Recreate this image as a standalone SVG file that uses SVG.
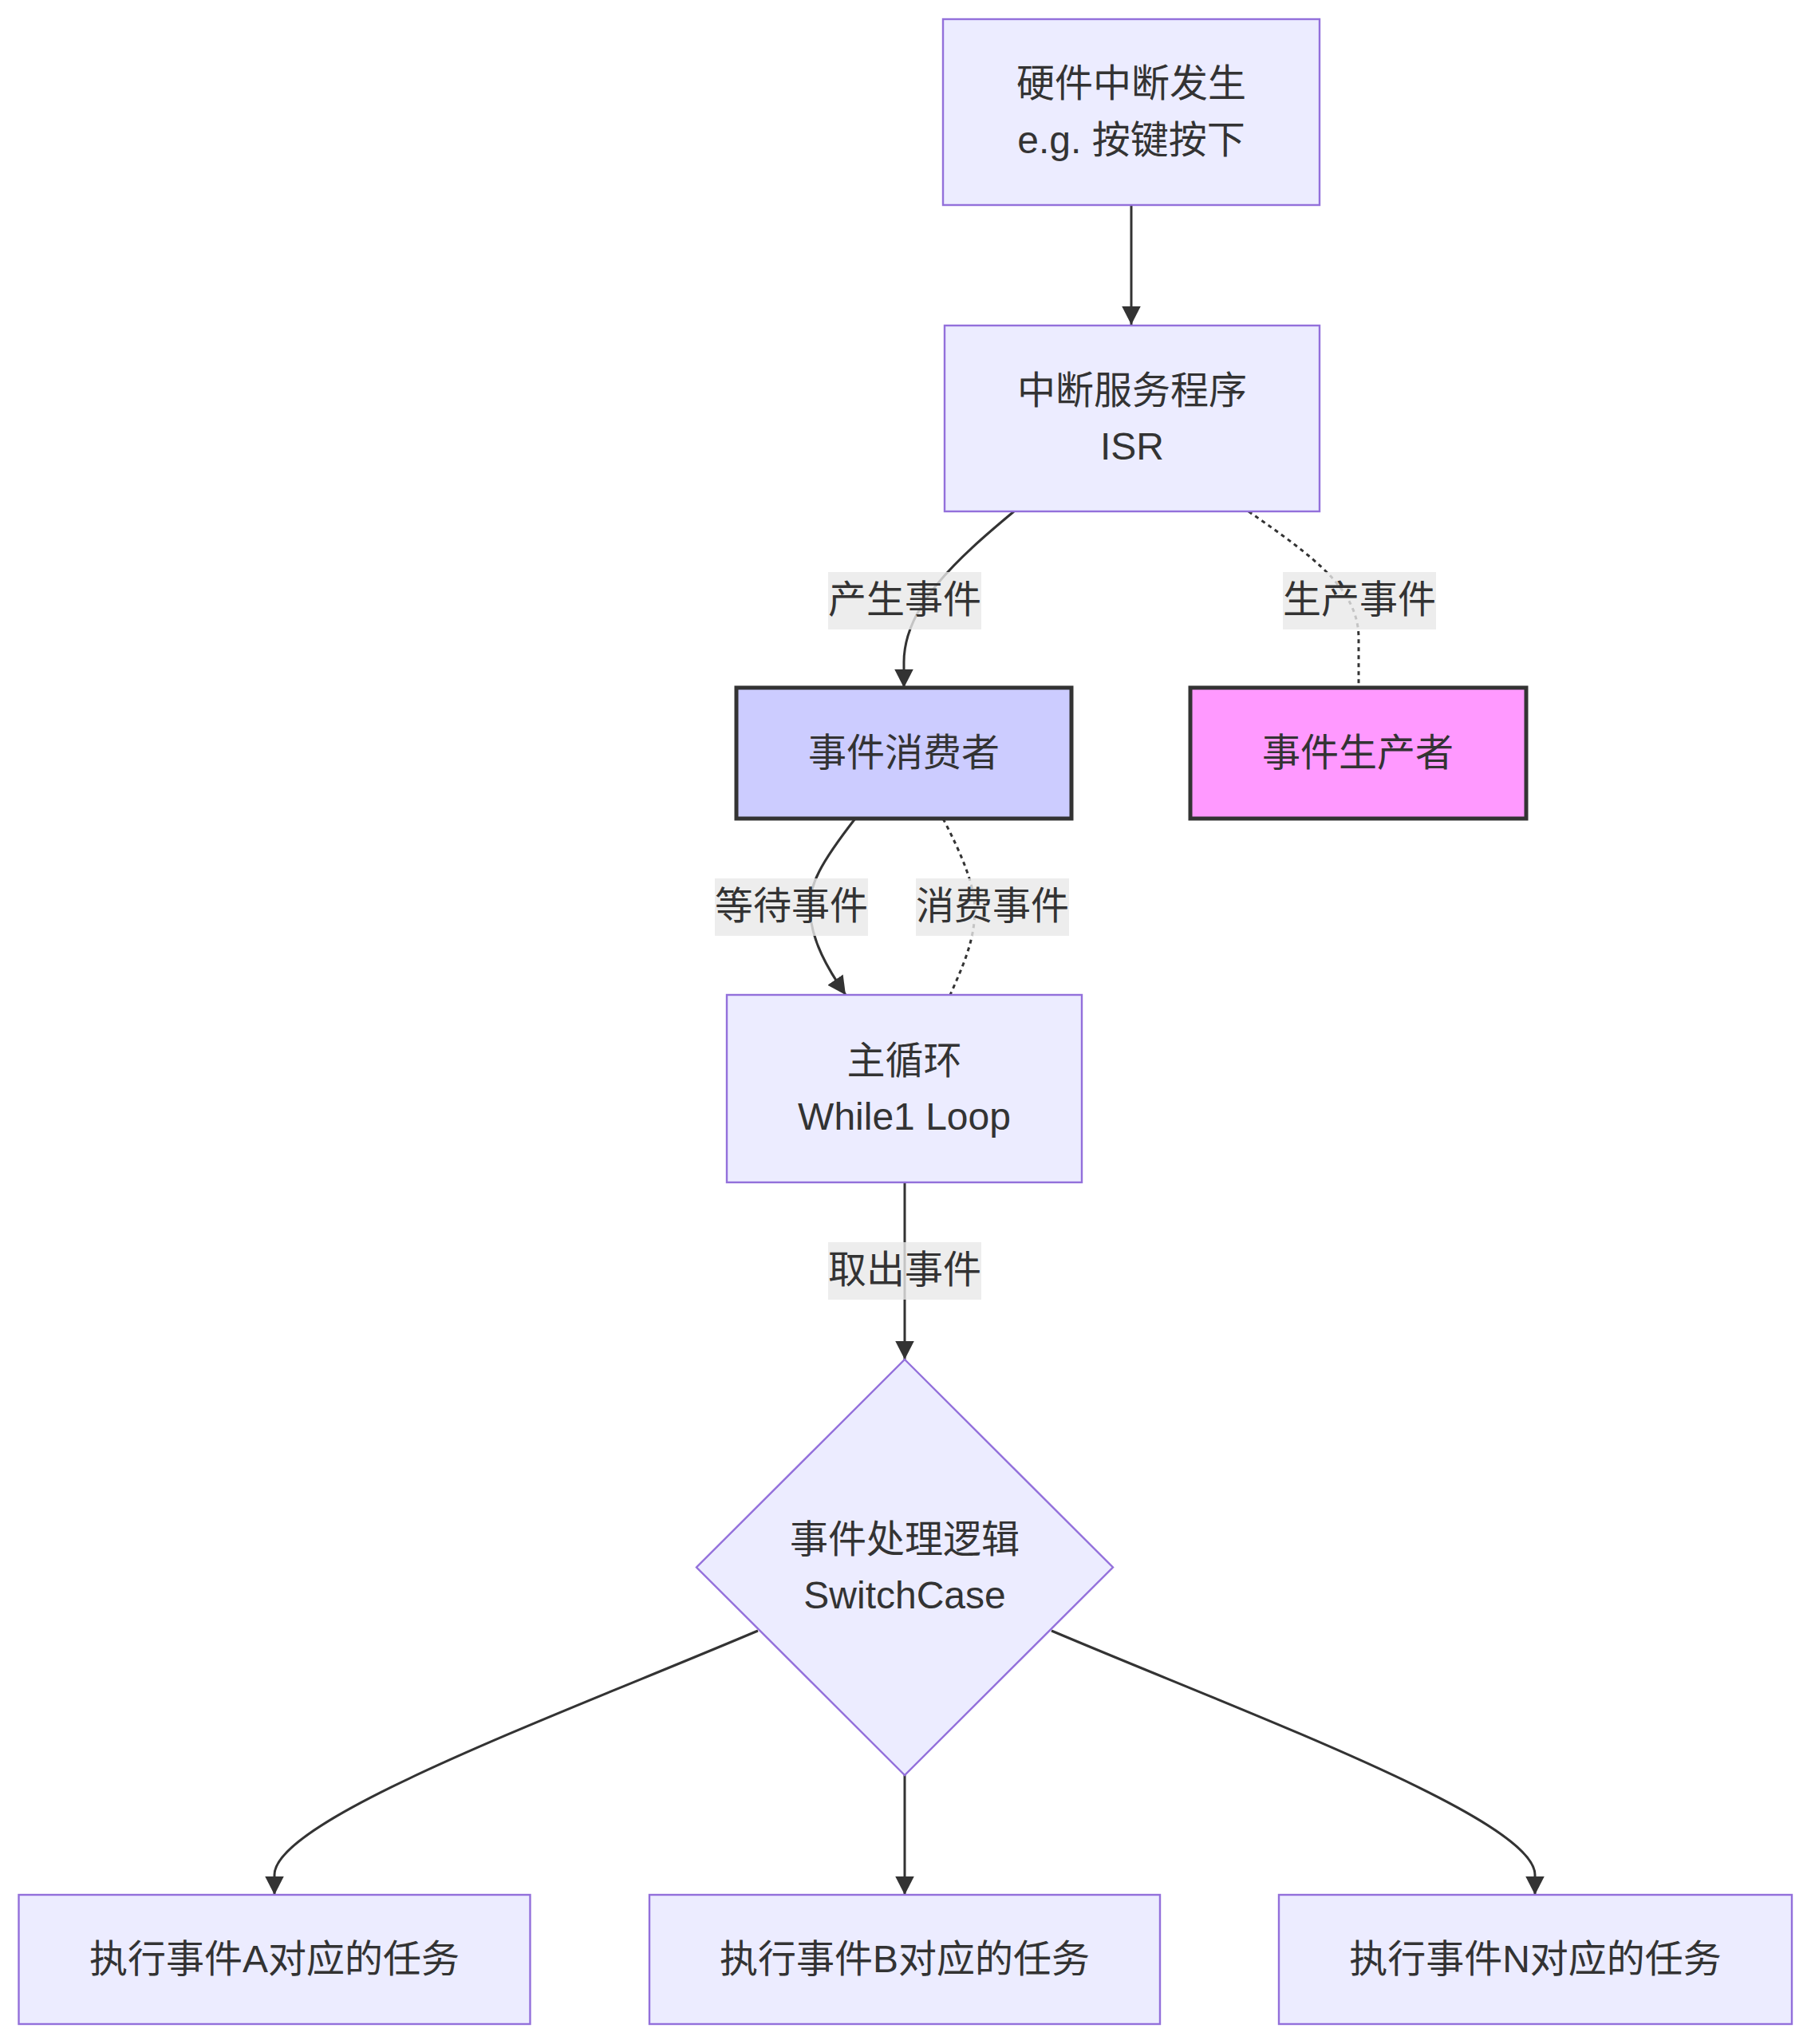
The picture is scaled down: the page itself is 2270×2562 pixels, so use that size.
<svg xmlns="http://www.w3.org/2000/svg" width="2270" height="2562" viewBox="0 0 2270 2562">
<defs>
<marker id="arrow" markerUnits="userSpaceOnUse" markerWidth="24" markerHeight="24" refX="23" refY="11.75" orient="auto" viewBox="0 0 24 24">
<path d="M0,0 L23,11.75 L0,23.5 z" fill="#333333"/>
</marker>
<style>
.node rect, .node polygon { fill: #ECECFF; stroke: #9370DB; stroke-width: 2.4; }
.t { font-family: "Liberation Sans", "Noto Sans CJK SC", sans-serif; font-size: 48px; fill: #333333; text-anchor: middle; }
.edge { fill: none; stroke: #333333; stroke-width: 3; }
.dotted { stroke-dasharray: 5 5; stroke-width: 3; }
.lbl { fill: rgba(232,232,232,0.8); }
</style>
</defs>
<rect width="2270" height="2562" fill="#ffffff"/>
<g id="connectors">
<path class="edge" d="M1418,257 L1418,407" marker-end="url(#arrow)"/>
<path class="edge" d="M1271,641 C1200,700 1133,760 1133,830 L1133,862" marker-end="url(#arrow)"/>
<path class="edge dotted" d="M1565,641 C1650,700 1703,740 1703,800 L1703,862"/>
<path class="edge" d="M1072,1026 C1030,1080 1013,1110 1015,1140 C1017,1180 1038,1215 1060,1247" marker-end="url(#arrow)"/>
<path class="edge dotted" d="M1182,1026 C1205,1070 1222,1110 1222,1140 C1222,1180 1205,1215 1191,1247"/>
<path class="edge" d="M1134,1482 L1134,1704" marker-end="url(#arrow)"/>
<path class="edge" d="M950,2044 C700,2150 344,2280 344,2350 L344,2375" marker-end="url(#arrow)"/>
<path class="edge" d="M1134,2225 L1134,2375" marker-end="url(#arrow)"/>
<path class="edge" d="M1318,2044 C1568,2150 1924,2280 1924,2350 L1924,2375" marker-end="url(#arrow)"/>
</g>
<g id="edge-labels">
<g id="label-produce"><rect class="lbl" x="1038" y="717" width="192" height="72"/><text class="t" x="1134" y="768">产生事件</text></g>
<g id="label-production"><rect class="lbl" x="1608" y="717" width="192" height="72"/><text class="t" x="1704" y="768">生产事件</text></g>
<g id="label-wait"><rect class="lbl" x="896" y="1101" width="192" height="72"/><text class="t" x="992" y="1152">等待事件</text></g>
<g id="label-consume"><rect class="lbl" x="1148" y="1101" width="192" height="72"/><text class="t" x="1244" y="1152">消费事件</text></g>
<g id="label-take"><rect class="lbl" x="1038" y="1557" width="192" height="72"/><text class="t" x="1134" y="1608">取出事件</text></g>
</g>
<g id="node-hw" class="node">
<rect x="1182" y="24" width="472" height="233"/>
<text class="t" x="1418" y="121">硬件中断发生</text>
<text class="t" x="1418" y="192">e.g. 按键按下</text>
</g>
<g id="node-isr" class="node">
<rect x="1184" y="408" width="470" height="233"/>
<text class="t" x="1419" y="506">中断服务程序</text>
<text class="t" x="1419" y="576">ISR</text>
</g>
<g id="node-consumer">
<rect x="923" y="862" width="420" height="164" fill="#ccccff" stroke="#333333" stroke-width="5"/>
<text class="t" x="1133" y="960">事件消费者</text>
</g>
<g id="node-producer">
<rect x="1492" y="862" width="421" height="164" fill="#ff99ff" stroke="#333333" stroke-width="5"/>
<text class="t" x="1702" y="960">事件生产者</text>
</g>
<g id="node-loop" class="node">
<rect x="911" y="1247" width="445" height="235"/>
<text class="t" x="1133.5" y="1346">主循环</text>
<text class="t" x="1133.5" y="1416">While1 Loop</text>
</g>
<g id="node-switch" class="node">
<polygon points="1134,1704 1395,1964.5 1134,2225 873,1964.5"/>
<text class="t" x="1134" y="1946">事件处理逻辑</text>
<text class="t" x="1134" y="2016">SwitchCase</text>
</g>
<g id="node-taskA" class="node">
<rect x="23.5" y="2375" width="641" height="162"/>
<text class="t" x="344" y="2472">执行事件A对应的任务</text>
</g>
<g id="node-taskB" class="node">
<rect x="814" y="2375" width="640" height="162"/>
<text class="t" x="1134" y="2472">执行事件B对应的任务</text>
</g>
<g id="node-taskN" class="node">
<rect x="1603" y="2375" width="643" height="162"/>
<text class="t" x="1924.5" y="2472">执行事件N对应的任务</text>
</g>
</svg>
